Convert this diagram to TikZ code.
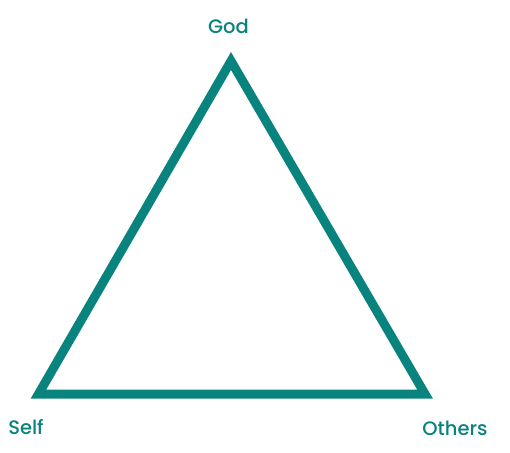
\documentclass[tikz,border=0pt]{standalone}
\usepackage{fontspec}
\setmainfont{Poppins}[UprightFont={* Medium}]
\definecolor{teal1}{RGB}{8,131,125}
\begin{document}
\begin{tikzpicture}[x=1pt,y=-1pt,
  lbl/.style={text=teal1,font=\fontsize{19.5}{22}\selectfont,inner sep=0pt,anchor=base},
  edge/.style={draw=teal1,line width=9pt,miter limit=10,line join=miter}]
\useasboundingbox (0,0) rectangle (510,452);
\coordinate (god) at (231,61);
\coordinate (self) at (38.5,394);
\coordinate (others) at (425,394);
\draw[edge] (god) -- (self) -- (others) -- cycle;
\node[lbl] (tgod) at (228.5,34) {God};
\node[lbl] (tself) at (26,434) {Self};
\node[lbl] (tothers) at (455,435) {Others};
\end{tikzpicture}
\end{document}
